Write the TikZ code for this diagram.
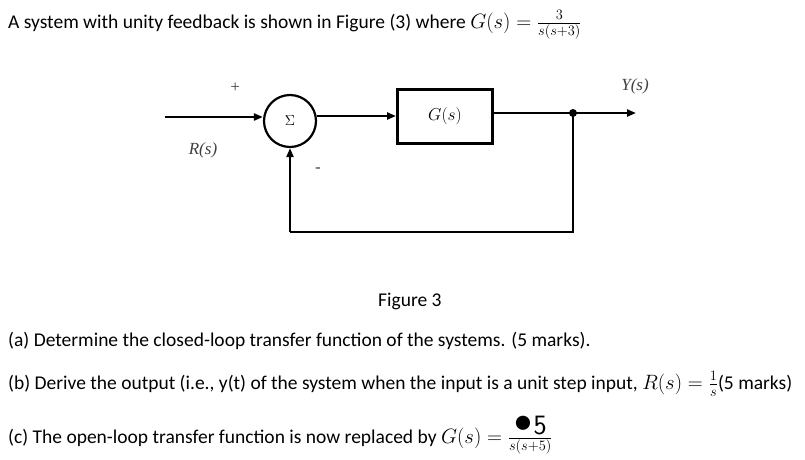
\documentclass[tikz,border=0pt]{standalone}
\usepackage{fontspec}
\setmainfont{Carlito}
\newfontfamily\tnr{Liberation Serif}
\usetikzlibrary{positioning,arrows.meta}

\begin{document}
\begin{tikzpicture}[x=1pt,y=-1pt,
  txt/.style={anchor=base west,inner sep=0pt,font=\fontsize{19.5}{22}\selectfont},
  lbl/.style={inner sep=0pt,font=\tnr\itshape\fontsize{17}{18}\selectfont,text=black!75},
  sig/.style={line width=2.2pt,-{Triangle[length=9pt,width=7pt]}},
  wire/.style={line width=2.2pt}]
\useasboundingbox (0,0) rectangle (805,459);

%-------------------Question text--------------------%
\node[txt] (intro) at (8,28) {A system with unity feedback is shown in Figure (3) where $G(s)=\frac{3}{s(s+3)}$};
\node[txt] (fig) at (378,306) {Figure 3};
\node[txt] (qa) at (8,346) {(a) Determine the closed-loop transfer function of the systems. (5 marks).};
\node[txt] (qb) at (8,389) {(b) Derive the output (i.e., y(t) of the system when the input is a unit step input, $R(s)=\frac{1}{s}$(5 marks)};
\node[txt] (qc) at (8,443) {(c) The open-loop transfer function is now replaced by $G(s)=\frac{\mbox{\fontsize{40}{40}\selectfont\textbullet\fontfamily{lmss}\fontseries{l}\fontsize{28}{28}\selectfont 5}}{s(s+5)}$};
%----------------------------------------------------%

%-------------------Block diagram-------------------%
\coordinate (in) at (165,117);
\node[draw,circle,line width=2.2pt,minimum size=52pt,inner sep=0pt,font=\fontsize{15}{15}\selectfont] (sum) at (290,121) {$\Sigma$};
\node[draw,line width=3pt,minimum width=95pt,minimum height=54pt] (plant) at (445,116) {\tnr\fontsize{19}{20}\selectfont$G(s)$};
\coordinate (tap) at (573,113);
\coordinate (out) at (636,113);
\coordinate (corner) at (573,232);
\coordinate (back) at (290,232);

\draw[sig] (in) -- (sum.west |- in);
\draw[sig] (sum.east |- plant) -- (plant.west);
\draw[wire] (plant.east |- tap) -- (tap);
\draw[sig] (tap) -- (out);
\fill (tap) circle (4);
\draw[wire] (tap) -- (corner) -- (back);
\draw[sig] (back) -- (sum.south);

\node[lbl] (plus) at (235,88) {+};
\node[lbl] (minus) at (318,170) {-};
\node[lbl] (R) at (203,150) {R(s)};
\node[lbl] (Y) at (635,86) {Y(s)};
%----------------------------------------------------%
\end{tikzpicture}
\end{document}
